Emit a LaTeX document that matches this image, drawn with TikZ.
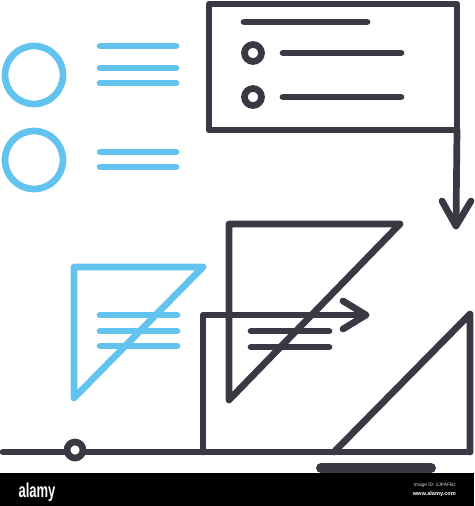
\documentclass[tikz,border=0pt]{standalone}
\usepackage{fontspec}
\setmainfont{Liberation Sans}
\definecolor{dk}{HTML}{393943}
\definecolor{bl}{HTML}{62C3EF}
\begin{document}
\begin{tikzpicture}[x=1pt,y=-1pt,
  dline/.style={draw=dk,line width=6.7pt,line cap=round,line join=round},
  bline/.style={draw=bl,line width=6.7pt,line cap=round,line join=round}]
\useasboundingbox[fill=white] (0,0) rectangle (474,506);
% blue list
\draw[bline] (34,75) circle (29);
\draw[bline] (34,160) circle (29);
\draw[bline] (100,46) -- (176,46);
\draw[bline] (100,68) -- (176,68);
\draw[bline] (100,83) -- (176,83);
\draw[bline] (100,152) -- (176,152);
\draw[bline] (100,167) -- (176,167);
% dark box
\draw[dline] (209,4) rectangle (457,130);
\draw[dline] (244,22) -- (367,22);
\draw[dline] (253,53) circle (8.5);
\draw[dline] (253,97) circle (8.5);
\draw[dline] (283,53) -- (401,53);
\draw[dline] (283,97) -- (401,97);
% arrow down
\coordinate (tip) at (456,226);
\draw[dline] (457,130) -- (tip);
\draw[dline] (442,201) -- (tip) -- (471,201);
% blue triangle
\draw[bline] (74,267) -- (203,267) -- (74,398) -- cycle;
\draw[bline] (100,315) -- (177,315);
\draw[bline] (100,331) -- (177,331);
\draw[bline] (100,346) -- (177,346);
% dark triangle
\draw[dline] (229,224) -- (400,224) -- (229,400) -- cycle;
% lower shape
\coordinate (rtip) at (366,315);
\draw[dline] (203,452) -- (203,315) -- (rtip);
\draw[dline] (343,301) -- (rtip) -- (343,329);
\draw[dline] (251,331) -- (329,331);
\draw[dline] (251,347) -- (329,347);
\draw[dline] (334,452) -- (470,314) -- (470,452);
% ground line
\draw[dline] (3,452) -- (470,452);
\draw[dline,fill=white] (75,450) circle (8);
% bottom bar
\draw[draw=dk,line width=10pt,line cap=round] (321,468) -- (431,468);
% watermark band
\fill[black] (0,473) rectangle (474,506);
\node[white,font=\bfseries\fontsize{20}{20}\selectfont,xscale=0.65,inner sep=0,anchor=base] (logo) at (37,497) {alamy};
\node[white!85!black,font=\fontsize{4.8}{5}\selectfont,anchor=east,inner sep=0] (imgid) at (456,485) {Image ID: 2JPAFB2};
\node[white,font=\bfseries\fontsize{5.6}{6}\selectfont,anchor=east,inner sep=0] (www) at (456,494) {www.alamy.com};
\end{tikzpicture}
\end{document}
